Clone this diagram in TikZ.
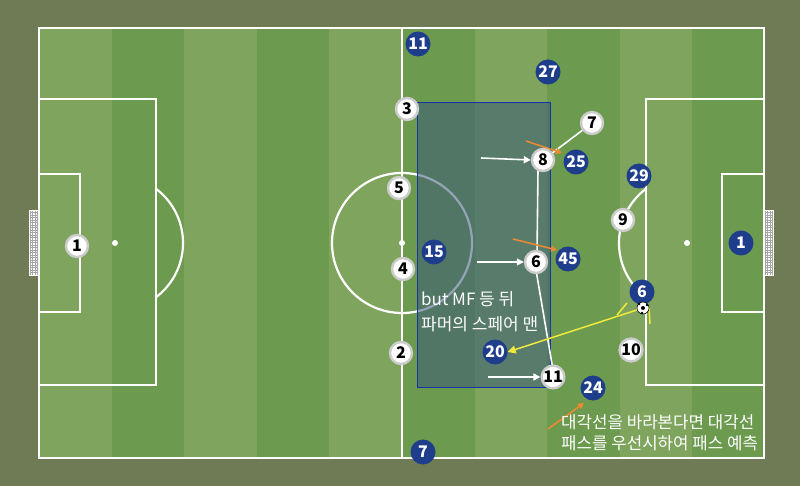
\documentclass[tikz,border=0pt]{standalone}
\usepackage{fontspec}
\setmainfont{Noto Sans CJK KR}
\usetikzlibrary{arrows.meta}
\definecolor{bgC}{RGB}{111,123,85}
\definecolor{lightS}{RGB}{126,164,93}
\definecolor{darkS}{RGB}{108,154,79}
\definecolor{blueC}{RGB}{30,62,140}
\definecolor{zoneC}{RGB}{60,90,120}
\definecolor{zoneB}{RGB}{20,50,170}
\definecolor{orangeC}{RGB}{240,138,48}
\definecolor{yellowC}{RGB}{240,234,60}
\begin{document}
\begin{tikzpicture}[x=1pt,y=-1pt,
  pline/.style={white, line width=2.2pt},
  wp/.style={circle, fill=white, draw=black!20, line width=2.4pt, minimum size=22pt, inner sep=0pt, text=black, font=\fontsize{16}{16}\selectfont\bfseries},
  bp/.style={circle, fill=blueC, draw=none, minimum size=25pt, inner sep=0pt, text=white, font=\fontsize{16}{16}\selectfont\bfseries},
  warrow/.style={white, line width=1.6pt, -{Triangle[length=7pt,width=7pt]}},
  oarrow/.style={orangeC, line width=1.5pt, -{Triangle[length=6pt,width=6pt]}},
  yline/.style={yellowC, line width=1.5pt},
  note/.style={text=white, align=left, inner sep=0pt, anchor=north west}]
\useasboundingbox (0,0) rectangle (800,486);
\fill[bgC] (0,0) rectangle (800,486);
% stripes
\foreach \i in {0,...,9}{
  \pgfmathsetmacro{\xa}{39+72.6*\i}
  \pgfmathsetmacro{\xb}{39+72.6*(\i+1)}
  \pgfmathparse{mod(\i,2)==0 ? 1 : 0}
  \ifnum\pgfmathresult=1
    \fill[lightS] (\xa,28) rectangle (\xb,458);
  \else
    \fill[darkS] (\xa,28) rectangle (\xb,458);
  \fi
}
% goals
\fill[white] (29,210) rectangle (38,275);
\draw[black!35, line width=0.3pt, step=2.5pt] (29,210) grid (38,275);
\draw[white, line width=0.8pt] (29,210) rectangle (38,275);
\fill[white] (764,210) rectangle (773,275);
\draw[black!35, line width=0.3pt, step=2.5pt] (764,210) grid (773,275);
\draw[white, line width=0.8pt] (764,210) rectangle (773,275);
% pitch lines
\draw[pline] (39,28) rectangle (764,458);
\draw[pline] (402,28) -- (402,458);
\draw[pline] (402,243) circle[radius=70pt];
\fill[white] (402,243) circle[radius=3pt];
\draw[pline] (39,99) rectangle (156,385);
\draw[pline] (39,174) rectangle (80,312);
\fill[white] (115,243) circle[radius=3pt];
\begin{scope}
  \clip (156,0) rectangle (300,486);
  \draw[pline] (115,243) circle[radius=68pt];
\end{scope}
\draw[pline] (646,99) rectangle (764,385);
\draw[pline] (722,174) rectangle (764,312);
\fill[white] (687,243) circle[radius=3pt];
\begin{scope}
  \clip (500,0) rectangle (646,486);
  \draw[pline] (687,243) circle[radius=68pt];
\end{scope}
% zone
\fill[zoneC, opacity=0.55] (417,103) rectangle (550,387);
\draw[zoneB, line width=1pt] (417,103) rectangle (550,387);
% connectors behind players
\coordinate (o1a) at (526,141); \coordinate (o1b) at (562,153);
\coordinate (o2a) at (513,239); \coordinate (o2b) at (557,250);
% players white
\node[wp] (w1) at (77,246) {1};
\node[wp] (w3) at (407,109) {3};
\node[wp] (w5) at (399,188) {5};
\node[wp] (w4) at (403,269) {4};
\node[wp] (w2) at (401,353) {2};
\node[wp] (w7) at (592,123) {7};
\node[wp] (w9) at (623,220) {9};
\node[wp] (w10) at (631,350) {10};
% lines between white players
\draw[white, line width=1.6pt] (w7) -- (543,160);
\draw[white, line width=1.6pt] (538,170) -- (537,255);
\draw[white, line width=1.6pt] (536,270) -- (553,370);
\draw[oarrow] (o1a) -- (o1b);
\draw[oarrow] (o2a) -- (o2b);
\node[wp] (w8) at (543,160) {8};
\node[wp] (w6) at (536,262) {6};
\node[wp] (w11) at (553,377) {11};
% blue players
\node[bp] (b11) at (418,44) {11};
\node[bp] (b27) at (548,72) {27};
\node[bp] (b25) at (576,162) {25};
\node[bp] (b29) at (639,176) {29};
\node[bp] (b1) at (741,243) {1};
\node[bp] (b15) at (434,252) {15};
\node[bp] (b45) at (568,259) {45};
\node[bp] (b6) at (642,292) {6};
\node[bp] (b20) at (495,352) {20};
\node[bp] (b24) at (593,388) {24};
\node[bp] (b7) at (423,452) {7};
% white run arrows
\coordinate (r1) at (481,158);
\coordinate (r2) at (477,262);
\coordinate (r3) at (488,377);
\draw[warrow] (r1) -- (w8.west);
\draw[warrow] (r2) -- (w6.west);
\draw[warrow] (r3) -- (w11.west);
% ball and pass
\coordinate (ball) at (643,308);
\draw[yline] (617,315) -- (627,303);
\draw[yline] (649,308) -- (650,324);
\draw[yellowC, line width=1.5pt, -{Triangle[length=8pt,width=8pt]}] (ball) -- (b20.east);
\fill[white] (ball) circle[radius=6pt];
\draw[black, line width=0.6pt] (ball) circle[radius=6pt];
\fill[black] (ball) circle[radius=2pt];
\fill[black] (639,304) circle[radius=1.3pt];
\fill[black] (647,305) circle[radius=1.3pt];
\fill[black] (642,313) circle[radius=1.3pt];
% bottom orange arrow
\coordinate (o3a) at (548,429); \coordinate (o3b) at (584,403);
\draw[oarrow] (o3a) -- (o3b);
% texts
\node[note, font=\fontsize{17}{25}\selectfont] (t1) at (421,291) {but MF 등 뒤\\파머의 스페어 맨};
\node[note, font=\fontsize{16.8}{21.5}\selectfont] (t2) at (561,414) {대각선을 바라본다면 대각선\\패스를 우선시하여 패스 예측};
\end{tikzpicture}
\end{document}
